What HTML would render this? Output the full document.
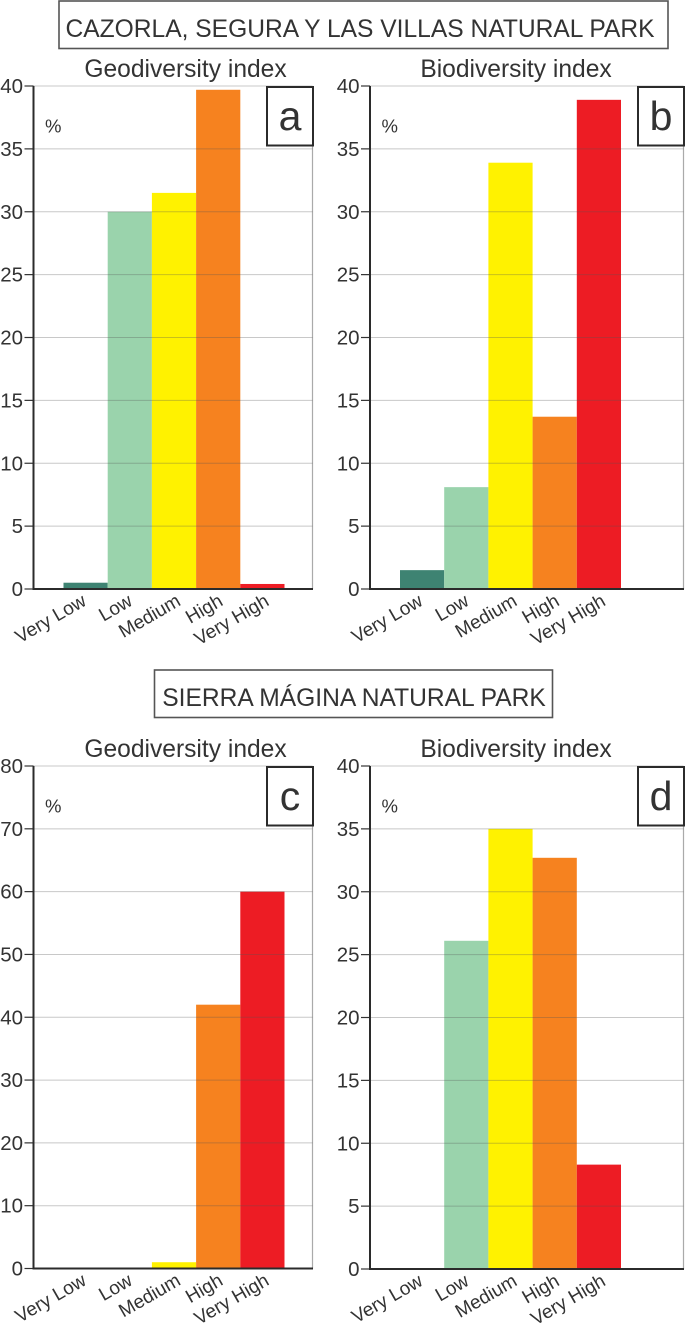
<!DOCTYPE html>
<html lang="en">
<head>
<meta charset="utf-8">
<title>Geodiversity and biodiversity index charts</title>
<style>
html,body{margin:0;padding:0;background:#fff;}
svg{display:block;font-family:"Liberation Sans",sans-serif;fill:#333;}
</style>
</head>
<body>
<svg id="figure" xmlns="http://www.w3.org/2000/svg" width="685" height="1326" viewBox="0 0 685 1326">
  <g>
    <rect x="59" y="1" width="609" height="47.5" fill="#fff" stroke="#555" stroke-width="1.6"/>
    <text x="360" y="37" text-anchor="middle" font-size="24.6">CAZORLA, SEGURA Y LAS VILLAS NATURAL PARK</text>
  </g>
  <g>
    <rect x="154.5" y="670" width="398" height="47.5" fill="#fff" stroke="#555" stroke-width="1.6"/>
    <text x="354" y="706" text-anchor="middle" font-size="24.6">SIERRA MÁGINA NATURAL PARK</text>
  </g>
</svg>
<script>
var categories = ['Very Low', 'Low', 'Medium', 'High', 'Very High'];
var barColors = ['#3e8372', '#9ad3ac', '#fff200', '#f6821f', '#ed1c24'];
var valuesA = [0.5, 30, 31.5, 39.7, 0.4];
var valuesB = [1.5, 8.1, 33.9, 13.7, 38.9];
var valuesC = [0, 0, 1, 42, 60];
var valuesD = [0, 26.1, 35, 32.7, 8.3];
var ticks40 = [0, 5, 10, 15, 20, 25, 30, 35, 40];
var ticks80 = [0, 10, 20, 30, 40, 50, 60, 70, 80];

var NS = 'http://www.w3.org/2000/svg';
var svg = document.getElementById('figure');

function make(parent, tag, attrs) {
  var el = document.createElementNS(NS, tag);
  for (var k in attrs) el.setAttribute(k, attrs[k]);
  parent.appendChild(el);
  return el;
}

function drawPanel(letter, title, values, ticks, ox, top, bottom, right, titleX) {
  var g = make(svg, 'g', {});
  
  

  var maxV = ticks[ticks.length - 1];
  function y(v) { return bottom - (v / maxV) * (bottom - top); }
  var bandStart = ox + 30;
  var bandWidth = 44.2;
  function x(i) { return bandStart + i * bandWidth; }

  var titleEl = make(g, 'text', {x: titleX, y: top - 9, 'text-anchor': 'middle', 'font-size': 24.6});
  
  
  titleEl.textContent = title;

  values.forEach(function (v, i) {
    if (v <= 0) return;
    var bar = make(g, 'rect', {x: x(i), y: y(v), width: bandWidth, height: bottom - y(v), fill: barColors[i]});
    
    
  });

  var rightLine = make(g, 'line', {x1: right, x2: right, y1: top, y2: bottom, stroke: '#aaa', 'stroke-width': 1.2});
  
  

  ticks.forEach(function (t) {
    if (t !== 0) {
      var grid = make(g, 'line', {x1: ox, x2: right, y1: y(t), y2: y(t), stroke: '#555', 'stroke-opacity': 0.32, 'stroke-width': 1});
      
      
    }
    var tick = make(g, 'line', {x1: ox - 9, x2: ox, y1: y(t), y2: y(t), stroke: '#333', 'stroke-width': 1.2});
    
    
    var label = make(g, 'text', {x: ox - 10.5, y: y(t) + 7, 'text-anchor': 'end', 'font-size': 20.5});
    
    
    label.textContent = t;
  });

  var yAxis = make(g, 'line', {x1: ox, x2: ox, y1: top, y2: bottom + 1, stroke: '#2b2b2b', 'stroke-width': 2});
  
  
  var xAxis = make(g, 'line', {x1: ox, x2: right + 0.5, y1: bottom, y2: bottom, stroke: '#2b2b2b', 'stroke-width': 2});
  
  

  var unit = make(g, 'text', {x: ox + 11.5, y: top + 46.5, 'font-size': 18.5});
  
  
  unit.textContent = '%';

  categories.forEach(function (c, i) {
    var lx = x(i) + 24 + (i === 1 ? 2 : 0) + (i === 2 ? 6 : 0) + (i === 3 ? 4 : 0) + (i === 4 ? 6 : 0);
    var ly = bottom + 15.5;
    var lab = make(g, 'text', {x: lx, y: ly, 'text-anchor': 'end', 'font-size': 19, transform: 'rotate(-30 ' + lx + ' ' + ly + ')'});
    
    
    lab.textContent = c;
  });

  var boxRight = right + 0.5;
  var box = make(g, 'rect', {x: boxRight - 46, y: top + 1, width: 46, height: 58.5, fill: '#fff', stroke: '#2b2b2b', 'stroke-width': 2});
  
  
  var let_ = make(g, 'text', {x: boxRight - 23, y: top + 44, 'text-anchor': 'middle', 'font-size': 41});
  
  
  let_.textContent = letter;
}

drawPanel('a', 'Geodiversity index', valuesA, ticks40, 33.5, 86, 589, 312.5, 185.5);
drawPanel('b', 'Biodiversity index', valuesB, ticks40, 370, 86, 589, 683.5, 516);
drawPanel('c', 'Geodiversity index', valuesC, ticks80, 33.5, 766, 1268.5, 312.5, 185.5);
drawPanel('d', 'Biodiversity index', valuesD, ticks40, 370, 766, 1269, 683.5, 516);
</script>
</body>
</html>
